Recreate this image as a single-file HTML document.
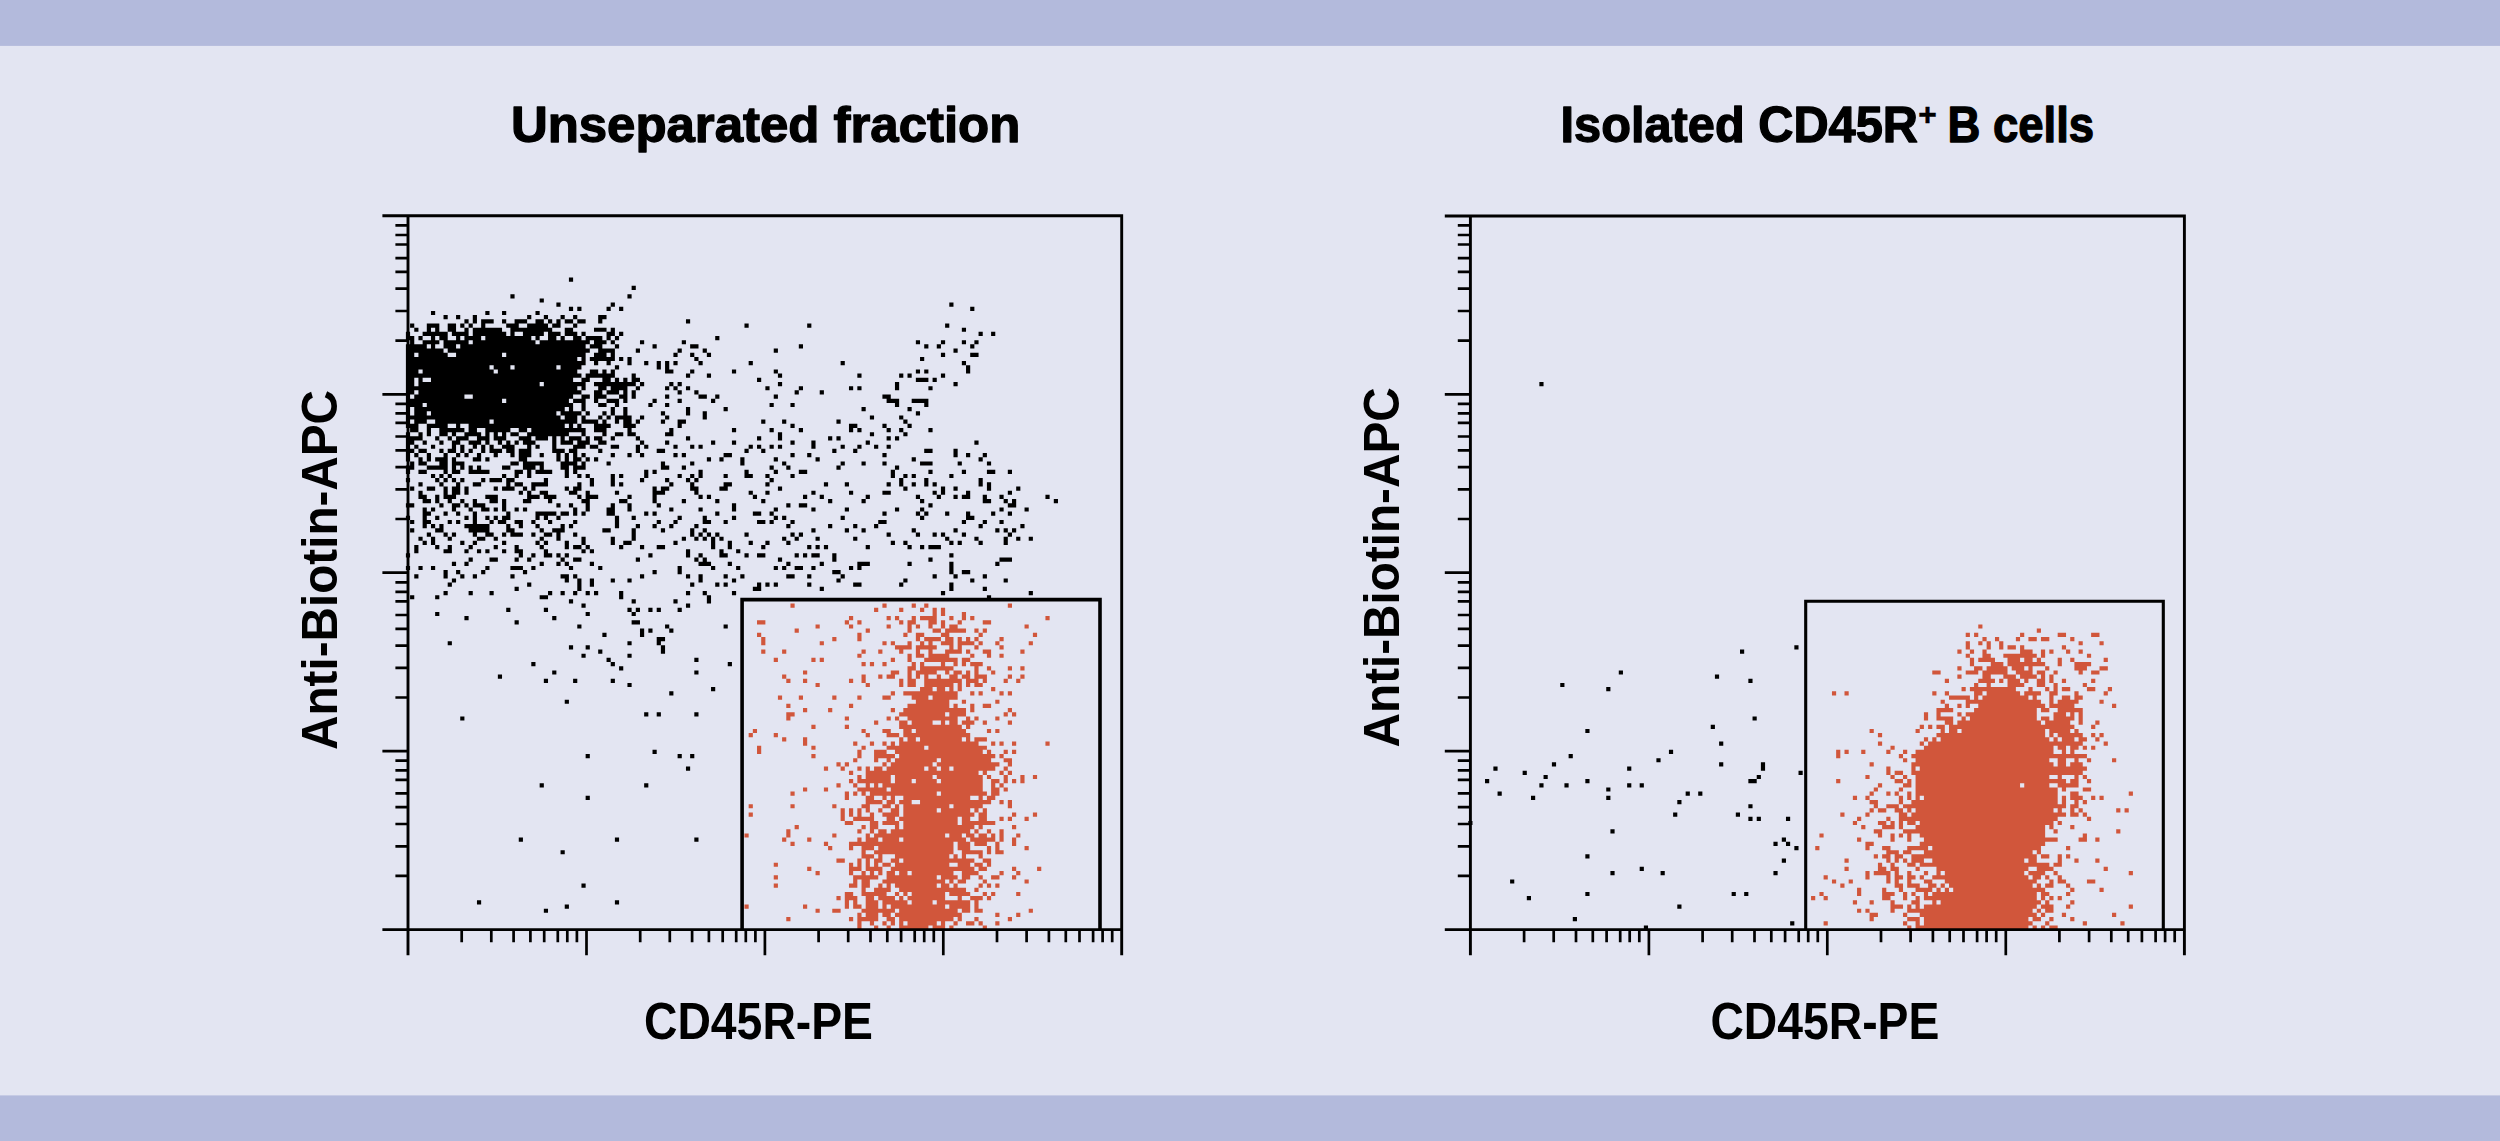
<!DOCTYPE html>
<html lang="en"><head><meta charset="utf-8"><title>CD45R B cell isolation</title>
<style>
html,body{margin:0;padding:0;background:#E3E5F2;}
body{width:2500px;height:1141px;overflow:hidden;font-family:"Liberation Sans",sans-serif;}
svg{display:block;position:absolute;left:0;top:0;}
</style></head><body>
<svg width="2500" height="1141" viewBox="0 0 2500 1141">
<rect x="0" y="0" width="2500" height="1141" fill="#E3E5F2"/>
<rect x="0" y="0" width="2500" height="45.9" fill="#B3BADC"/>
<rect x="0" y="1095.4" width="2500" height="45.6" fill="#B3BADC"/>
<g>
<path fill="#000000" transform="translate(405.9 210.6) scale(4.18)" d="M39 16h1v1h-1zM54 18h1v1h-1zM25 20h1v1h-1zM53 20h1v1h-1zM32 21h1v1h-1zM36 22h1v1h-1zM49 22h1v1h-1zM130 22h1v1h-1zM39 23h1v1h-1zM41 23h1v1h-1zM48 23h1v1h-1zM51 23h1v1h-1zM135 23h1v1h-1zM6 24h1v1h-1zM19 24h1v1h-1zM23 24h1v1h-1zM31 24h1v1h-1zM9 25h1v1h-1zM12 25h1v1h-1zM16 25h1v1h-1zM29 25h1v1h-1zM33 25h1v1h-1zM37 25h1v1h-1zM40 25h1v1h-1zM46 25h2v1h-2zM14 26h1v1h-1zM16 26h1v1h-1zM18 26h3v1h-3zM23 26h1v1h-1zM26 26h3v1h-3zM31 26h2v1h-2zM34 26h1v1h-1zM36 26h1v1h-1zM38 26h2v1h-2zM41 26h2v1h-2zM46 26h1v1h-1zM67 26h1v1h-1zM1 27h1v1h-1zM5 27h3v1h-3zM10 27h2v1h-2zM13 27h1v1h-1zM15 27h1v1h-1zM18 27h1v1h-1zM24 27h3v1h-3zM29 27h5v1h-5zM35 27h2v1h-2zM40 27h1v1h-1zM81 27h1v1h-1zM96 27h1v1h-1zM129 27h1v1h-1zM2 28h1v1h-1zM5 28h1v1h-1zM7 28h1v1h-1zM10 28h2v1h-2zM14 28h1v1h-1zM16 28h7v1h-7zM25 28h10v1h-10zM38 28h2v1h-2zM45 28h3v1h-3zM49 28h1v1h-1zM133 28h1v1h-1zM0 29h1v1h-1zM4 29h6v1h-6zM11 29h4v1h-4zM16 29h8v1h-8zM25 29h1v1h-1zM28 29h5v1h-5zM34 29h3v1h-3zM38 29h3v1h-3zM42 29h1v1h-1zM48 29h2v1h-2zM51 29h1v1h-1zM137 29h1v1h-1zM140 29h1v1h-1zM0 30h2v1h-2zM3 30h1v1h-1zM6 30h1v1h-1zM8 30h2v1h-2zM12 30h1v1h-1zM14 30h4v1h-4zM19 30h11v1h-11zM31 30h1v1h-1zM34 30h2v1h-2zM37 30h1v1h-1zM40 30h2v1h-2zM43 30h4v1h-4zM48 30h1v1h-1zM50 30h1v1h-1zM74 30h1v1h-1zM1 31h1v1h-1zM4 31h4v1h-4zM9 31h6v1h-6zM16 31h15v1h-15zM32 31h12v1h-12zM45 31h3v1h-3zM49 31h1v1h-1zM56 31h1v1h-1zM66 31h1v1h-1zM122 31h1v1h-1zM128 31h1v1h-1zM133 31h1v1h-1zM136 31h1v1h-1zM0 32h5v1h-5zM6 32h1v1h-1zM9 32h3v1h-3zM13 32h30v1h-30zM44 32h3v1h-3zM50 32h1v1h-1zM59 32h1v1h-1zM68 32h2v1h-2zM94 32h1v1h-1zM124 32h1v1h-1zM127 32h1v1h-1zM135 32h1v1h-1zM0 33h9v1h-9zM10 33h34v1h-34zM46 33h4v1h-4zM55 33h1v1h-1zM65 33h1v1h-1zM71 33h1v1h-1zM88 33h1v1h-1zM131 33h1v1h-1zM0 34h2v1h-2zM3 34h7v1h-7zM12 34h11v1h-11zM24 34h19v1h-19zM45 34h3v1h-3zM49 34h1v1h-1zM64 34h1v1h-1zM68 34h1v1h-1zM72 34h1v1h-1zM128 34h1v1h-1zM135 34h2v1h-2zM0 35h41v1h-41zM42 35h1v1h-1zM44 35h6v1h-6zM51 35h1v1h-1zM53 35h1v1h-1zM69 35h1v1h-1zM123 35h1v1h-1zM0 36h43v1h-43zM45 36h1v1h-1zM48 36h1v1h-1zM53 36h1v1h-1zM57 36h1v1h-1zM60 36h1v1h-1zM62 36h1v1h-1zM64 36h1v1h-1zM70 36h1v1h-1zM82 36h1v1h-1zM104 36h1v1h-1zM133 36h1v1h-1zM0 37h20v1h-20zM21 37h4v1h-4zM26 37h10v1h-10zM37 37h5v1h-5zM50 37h1v1h-1zM60 37h1v1h-1zM62 37h1v1h-1zM134 37h1v1h-1zM0 38h3v1h-3zM4 38h17v1h-17zM22 38h19v1h-19zM44 38h2v1h-2zM47 38h1v1h-1zM49 38h1v1h-1zM62 38h2v1h-2zM68 38h1v1h-1zM78 38h1v1h-1zM88 38h1v1h-1zM122 38h1v1h-1zM124 38h1v1h-1zM134 38h1v1h-1zM0 39h42v1h-42zM43 39h7v1h-7zM54 39h1v1h-1zM67 39h1v1h-1zM72 39h1v1h-1zM89 39h1v1h-1zM108 39h1v1h-1zM118 39h1v1h-1zM120 39h1v1h-1zM128 39h1v1h-1zM0 40h2v1h-2zM3 40h1v1h-1zM6 40h34v1h-34zM42 40h2v1h-2zM47 40h2v1h-2zM50 40h1v1h-1zM52 40h1v1h-1zM54 40h2v1h-2zM84 40h1v1h-1zM122 40h3v1h-3zM126 40h1v1h-1zM0 41h2v1h-2zM3 41h29v1h-29zM33 41h10v1h-10zM45 41h10v1h-10zM56 41h1v1h-1zM63 41h1v1h-1zM65 41h1v1h-1zM89 41h1v1h-1zM117 41h1v1h-1zM131 41h1v1h-1zM0 42h41v1h-41zM42 42h1v1h-1zM46 42h2v1h-2zM49 42h4v1h-4zM55 42h1v1h-1zM62 42h1v1h-1zM64 42h1v1h-1zM67 42h1v1h-1zM86 42h1v1h-1zM94 42h1v1h-1zM106 42h1v1h-1zM108 42h1v1h-1zM117 42h1v1h-1zM125 42h1v1h-1zM0 43h2v1h-2zM3 43h39v1h-39zM45 43h2v1h-2zM48 43h3v1h-3zM52 43h1v1h-1zM54 43h1v1h-1zM65 43h1v1h-1zM69 43h1v1h-1zM93 43h1v1h-1zM99 43h1v1h-1zM0 44h1v1h-1zM2 44h12v1h-12zM16 44h24v1h-24zM42 44h2v1h-2zM45 44h3v1h-3zM51 44h2v1h-2zM54 44h1v1h-1zM62 44h1v1h-1zM70 44h2v1h-2zM74 44h1v1h-1zM88 44h1v1h-1zM114 44h2v1h-2zM0 45h23v1h-23zM24 45h15v1h-15zM40 45h3v1h-3zM45 45h1v1h-1zM48 45h3v1h-3zM52 45h1v1h-1zM59 45h1v1h-1zM65 45h1v1h-1zM73 45h1v1h-1zM115 45h3v1h-3zM121 45h4v1h-4zM0 46h4v1h-4zM5 46h35v1h-35zM42 46h1v1h-1zM46 46h2v1h-2zM50 46h1v1h-1zM58 46h1v1h-1zM62 46h1v1h-1zM87 46h1v1h-1zM92 46h1v1h-1zM117 46h1v1h-1zM124 46h1v1h-1zM0 47h1v1h-1zM2 47h36v1h-36zM39 47h1v1h-1zM42 47h1v1h-1zM49 47h1v1h-1zM52 47h1v1h-1zM67 47h1v1h-1zM76 47h1v1h-1zM109 47h1v1h-1zM120 47h1v1h-1zM0 48h1v1h-1zM2 48h3v1h-3zM6 48h30v1h-30zM37 48h5v1h-5zM43 48h1v1h-1zM47 48h1v1h-1zM49 48h1v1h-1zM52 48h1v1h-1zM61 48h1v1h-1zM67 48h1v1h-1zM71 48h1v1h-1zM122 48h1v1h-1zM0 49h37v1h-37zM38 49h3v1h-3zM42 49h1v1h-1zM46 49h1v1h-1zM48 49h1v1h-1zM50 49h4v1h-4zM56 49h1v1h-1zM62 49h1v1h-1zM71 49h1v1h-1zM111 49h1v1h-1zM118 49h1v1h-1zM0 50h1v1h-1zM2 50h3v1h-3zM7 50h13v1h-13zM21 50h20v1h-20zM42 50h4v1h-4zM47 50h1v1h-1zM50 50h1v1h-1zM52 50h2v1h-2zM55 50h1v1h-1zM61 50h1v1h-1zM65 50h2v1h-2zM85 50h1v1h-1zM90 50h1v1h-1zM103 50h1v1h-1zM119 50h1v1h-1zM0 51h3v1h-3zM5 51h5v1h-5zM12 51h1v1h-1zM15 51h23v1h-23zM39 51h1v1h-1zM41 51h1v1h-1zM45 51h4v1h-4zM52 51h3v1h-3zM65 51h1v1h-1zM92 51h1v1h-1zM106 51h2v1h-2zM114 51h1v1h-1zM120 51h1v1h-1zM1 52h2v1h-2zM5 52h1v1h-1zM8 52h6v1h-6zM15 52h2v1h-2zM19 52h6v1h-6zM27 52h2v1h-2zM30 52h13v1h-13zM45 52h3v1h-3zM53 52h1v1h-1zM63 52h1v1h-1zM78 52h1v1h-1zM87 52h1v1h-1zM94 52h1v1h-1zM106 52h1v1h-1zM108 52h1v1h-1zM115 52h1v1h-1zM118 52h1v1h-1zM125 52h1v1h-1zM0 53h1v1h-1zM3 53h1v1h-1zM5 53h1v1h-1zM8 53h2v1h-2zM11 53h1v1h-1zM14 53h4v1h-4zM19 53h1v1h-1zM21 53h1v1h-1zM23 53h1v1h-1zM25 53h2v1h-2zM29 53h10v1h-10zM42 53h1v1h-1zM47 53h1v1h-1zM50 53h2v1h-2zM53 53h2v1h-2zM62 53h2v1h-2zM89 53h1v1h-1zM111 53h1v1h-1zM119 53h1v1h-1zM0 54h4v1h-4zM7 54h1v1h-1zM10 54h1v1h-1zM12 54h3v1h-3zM17 54h3v1h-3zM21 54h3v1h-3zM27 54h3v1h-3zM31 54h3v1h-3zM35 54h1v1h-1zM37 54h1v1h-1zM39 54h3v1h-3zM43 54h1v1h-1zM45 54h2v1h-2zM49 54h1v1h-1zM55 54h1v1h-1zM67 54h1v1h-1zM84 54h1v1h-1zM89 54h1v1h-1zM101 54h1v1h-1zM103 54h1v1h-1zM115 54h1v1h-1zM117 54h1v1h-1zM0 55h2v1h-2zM4 55h1v1h-1zM8 55h1v1h-1zM11 55h2v1h-2zM15 55h3v1h-3zM19 55h1v1h-1zM22 55h1v1h-1zM24 55h1v1h-1zM26 55h1v1h-1zM28 55h3v1h-3zM35 55h1v1h-1zM37 55h3v1h-3zM41 55h3v1h-3zM46 55h2v1h-2zM56 55h1v1h-1zM62 55h1v1h-1zM73 55h1v1h-1zM78 55h1v1h-1zM92 55h1v1h-1zM97 55h1v1h-1zM110 55h1v1h-1zM136 55h1v1h-1zM0 56h1v1h-1zM2 56h1v1h-1zM6 56h1v1h-1zM11 56h1v1h-1zM13 56h1v1h-1zM16 56h1v1h-1zM18 56h1v1h-1zM20 56h1v1h-1zM23 56h3v1h-3zM29 56h1v1h-1zM31 56h1v1h-1zM35 56h1v1h-1zM40 56h3v1h-3zM44 56h2v1h-2zM49 56h2v1h-2zM55 56h1v1h-1zM57 56h1v1h-1zM64 56h1v1h-1zM68 56h1v1h-1zM70 56h1v1h-1zM82 56h1v1h-1zM84 56h1v1h-1zM87 56h1v1h-1zM89 56h1v1h-1zM97 56h1v1h-1zM104 56h1v1h-1zM108 56h1v1h-1zM112 56h1v1h-1zM115 56h1v1h-1zM0 57h2v1h-2zM3 57h2v1h-2zM8 57h1v1h-1zM10 57h2v1h-2zM13 57h1v1h-1zM15 57h1v1h-1zM18 57h1v1h-1zM20 57h3v1h-3zM24 57h2v1h-2zM27 57h3v1h-3zM35 57h3v1h-3zM39 57h2v1h-2zM46 57h1v1h-1zM55 57h1v1h-1zM60 57h2v1h-2zM81 57h1v1h-1zM85 57h1v1h-1zM102 57h1v1h-1zM107 57h1v1h-1zM124 57h2v1h-2zM131 57h1v1h-1zM0 58h1v1h-1zM2 58h1v1h-1zM5 58h1v1h-1zM9 58h1v1h-1zM12 58h1v1h-1zM14 58h1v1h-1zM17 58h1v1h-1zM21 58h1v1h-1zM25 58h1v1h-1zM27 58h3v1h-3zM32 58h1v1h-1zM36 58h1v1h-1zM38 58h1v1h-1zM40 58h1v1h-1zM42 58h1v1h-1zM49 58h1v1h-1zM53 58h1v1h-1zM56 58h1v1h-1zM64 58h1v1h-1zM66 58h1v1h-1zM76 58h2v1h-2zM92 58h1v1h-1zM96 58h1v1h-1zM114 58h1v1h-1zM131 58h1v1h-1zM134 58h1v1h-1zM138 58h1v1h-1zM0 59h1v1h-1zM3 59h1v1h-1zM5 59h1v1h-1zM7 59h3v1h-3zM11 59h1v1h-1zM16 59h2v1h-2zM19 59h1v1h-1zM27 59h2v1h-2zM36 59h1v1h-1zM38 59h1v1h-1zM40 59h2v1h-2zM43 59h1v1h-1zM45 59h1v1h-1zM72 59h1v1h-1zM75 59h1v1h-1zM80 59h1v1h-1zM88 59h1v1h-1zM98 59h1v1h-1zM121 59h1v1h-1zM137 59h1v1h-1zM1 60h1v1h-1zM3 60h2v1h-2zM8 60h2v1h-2zM11 60h3v1h-3zM25 60h2v1h-2zM28 60h5v1h-5zM37 60h4v1h-4zM42 60h1v1h-1zM48 60h1v1h-1zM61 60h1v1h-1zM68 60h1v1h-1zM80 60h1v1h-1zM90 60h1v1h-1zM104 60h1v1h-1zM109 60h1v1h-1zM114 60h1v1h-1zM123 60h3v1h-3zM132 60h1v1h-1zM139 60h1v1h-1zM0 61h2v1h-2zM5 61h5v1h-5zM11 61h1v1h-1zM13 61h1v1h-1zM15 61h1v1h-1zM17 61h1v1h-1zM23 61h2v1h-2zM28 61h3v1h-3zM32 61h1v1h-1zM37 61h2v1h-2zM40 61h3v1h-3zM61 61h2v1h-2zM66 61h1v1h-1zM87 61h1v1h-1zM91 61h1v1h-1zM103 61h1v1h-1zM117 61h1v1h-1zM0 62h1v1h-1zM3 62h2v1h-2zM9 62h1v1h-1zM11 62h2v1h-2zM15 62h5v1h-5zM26 62h2v1h-2zM29 62h1v1h-1zM31 62h4v1h-4zM38 62h1v1h-1zM40 62h1v1h-1zM57 62h1v1h-1zM59 62h1v1h-1zM70 62h1v1h-1zM81 62h1v1h-1zM88 62h1v1h-1zM94 62h2v1h-2zM116 62h1v1h-1zM125 62h1v1h-1zM133 62h1v1h-1zM139 62h2v1h-2zM144 62h1v1h-1zM6 63h1v1h-1zM8 63h1v1h-1zM10 63h1v1h-1zM23 63h1v1h-1zM26 63h1v1h-1zM29 63h1v1h-1zM38 63h1v1h-1zM41 63h1v1h-1zM43 63h1v1h-1zM49 63h1v1h-1zM51 63h1v1h-1zM57 63h1v1h-1zM65 63h1v1h-1zM68 63h1v1h-1zM70 63h1v1h-1zM76 63h1v1h-1zM81 63h2v1h-2zM86 63h1v1h-1zM92 63h1v1h-1zM116 63h1v1h-1zM119 63h1v1h-1zM121 63h1v1h-1zM130 63h1v1h-1zM0 64h1v1h-1zM7 64h1v1h-1zM9 64h1v1h-1zM11 64h1v1h-1zM13 64h1v1h-1zM18 64h1v1h-1zM20 64h3v1h-3zM24 64h2v1h-2zM33 64h1v1h-1zM44 64h1v1h-1zM49 64h1v1h-1zM56 64h1v1h-1zM62 64h1v1h-1zM67 64h1v1h-1zM69 64h1v1h-1zM87 64h1v1h-1zM118 64h1v1h-1zM124 64h1v1h-1zM137 64h1v1h-1zM3 65h1v1h-1zM8 65h1v1h-1zM12 65h1v1h-1zM16 65h2v1h-2zM24 65h1v1h-1zM26 65h2v1h-2zM30 65h4v1h-4zM41 65h1v1h-1zM44 65h1v1h-1zM49 65h1v1h-1zM51 65h1v1h-1zM63 65h1v1h-1zM68 65h1v1h-1zM76 65h2v1h-2zM86 65h1v1h-1zM100 65h1v1h-1zM105 65h1v1h-1zM115 65h1v1h-1zM118 65h1v1h-1zM121 65h1v1h-1zM124 65h1v1h-1zM126 65h1v1h-1zM137 65h1v1h-1zM139 65h1v1h-1zM1 66h1v1h-1zM5 66h2v1h-2zM9 66h1v1h-1zM11 66h2v1h-2zM14 66h1v1h-1zM21 66h1v1h-1zM23 66h3v1h-3zM28 66h1v1h-1zM30 66h1v1h-1zM38 66h1v1h-1zM40 66h2v1h-2zM59 66h1v1h-1zM61 66h2v1h-2zM68 66h2v1h-2zM75 66h2v1h-2zM89 66h1v1h-1zM119 66h1v1h-1zM128 66h1v1h-1zM131 66h1v1h-1zM139 66h1v1h-1zM146 66h1v1h-1zM3 67h1v1h-1zM9 67h1v1h-1zM11 67h2v1h-2zM14 67h1v1h-1zM27 67h1v1h-1zM29 67h1v1h-1zM32 67h2v1h-2zM39 67h2v1h-2zM43 67h1v1h-1zM50 67h1v1h-1zM59 67h3v1h-3zM69 67h1v1h-1zM82 67h1v1h-1zM86 67h1v1h-1zM97 67h1v1h-1zM106 67h1v1h-1zM114 67h2v1h-2zM126 67h1v1h-1zM128 67h1v1h-1zM134 67h1v1h-1zM144 67h1v1h-1zM3 68h2v1h-2zM7 68h1v1h-1zM9 68h3v1h-3zM19 68h3v1h-3zM29 68h3v1h-3zM33 68h3v1h-3zM41 68h1v1h-1zM43 68h3v1h-3zM53 68h1v1h-1zM59 68h1v1h-1zM70 68h1v1h-1zM72 68h1v1h-1zM83 68h1v1h-1zM95 68h1v1h-1zM99 68h1v1h-1zM110 68h1v1h-1zM122 68h1v1h-1zM127 68h1v1h-1zM131 68h1v1h-1zM133 68h2v1h-2zM138 68h1v1h-1zM142 68h1v1h-1zM153 68h1v1h-1zM4 69h2v1h-2zM7 69h1v1h-1zM10 69h1v1h-1zM13 69h1v1h-1zM16 69h1v1h-1zM20 69h2v1h-2zM23 69h1v1h-1zM28 69h2v1h-2zM34 69h1v1h-1zM42 69h2v1h-2zM51 69h2v1h-2zM59 69h1v1h-1zM66 69h1v1h-1zM74 69h1v1h-1zM85 69h1v1h-1zM101 69h1v1h-1zM109 69h1v1h-1zM123 69h1v1h-1zM138 69h2v1h-2zM143 69h1v1h-1zM145 69h1v1h-1zM155 69h1v1h-1zM0 70h2v1h-2zM8 70h1v1h-1zM11 70h2v1h-2zM14 70h1v1h-1zM16 70h3v1h-3zM23 70h1v1h-1zM36 70h1v1h-1zM39 70h1v1h-1zM43 70h1v1h-1zM49 70h1v1h-1zM53 70h1v1h-1zM60 70h1v1h-1zM78 70h1v1h-1zM91 70h1v1h-1zM94 70h2v1h-2zM125 70h1v1h-1zM144 70h2v1h-2zM4 71h1v1h-1zM6 71h1v1h-1zM11 71h1v1h-1zM15 71h1v1h-1zM18 71h2v1h-2zM21 71h1v1h-1zM23 71h1v1h-1zM26 71h1v1h-1zM28 71h1v1h-1zM40 71h1v1h-1zM43 71h1v1h-1zM48 71h2v1h-2zM53 71h1v1h-1zM63 71h1v1h-1zM70 71h1v1h-1zM78 71h1v1h-1zM88 71h1v1h-1zM97 71h1v1h-1zM105 71h1v1h-1zM117 71h1v1h-1zM123 71h1v1h-1zM142 71h1v1h-1zM148 71h1v1h-1zM4 72h2v1h-2zM9 72h1v1h-1zM12 72h1v1h-1zM16 72h1v1h-1zM24 72h1v1h-1zM31 72h5v1h-5zM37 72h2v1h-2zM40 72h1v1h-1zM42 72h1v1h-1zM48 72h2v1h-2zM57 72h1v1h-1zM59 72h1v1h-1zM74 72h1v1h-1zM83 72h2v1h-2zM87 72h1v1h-1zM114 72h1v1h-1zM122 72h1v1h-1zM124 72h1v1h-1zM129 72h1v1h-1zM134 72h1v1h-1zM140 72h1v1h-1zM144 72h1v1h-1zM0 73h1v1h-1zM4 73h1v1h-1zM7 73h1v1h-1zM14 73h1v1h-1zM16 73h1v1h-1zM19 73h1v1h-1zM21 73h1v1h-1zM23 73h2v1h-2zM31 73h1v1h-1zM33 73h1v1h-1zM36 73h1v1h-1zM50 73h1v1h-1zM54 73h1v1h-1zM65 73h1v1h-1zM71 73h1v1h-1zM78 73h1v1h-1zM88 73h1v1h-1zM90 73h1v1h-1zM104 73h1v1h-1zM123 73h1v1h-1zM134 73h2v1h-2zM1 74h1v1h-1zM4 74h2v1h-2zM10 74h1v1h-1zM12 74h1v1h-1zM16 74h1v1h-1zM20 74h1v1h-1zM22 74h2v1h-2zM26 74h2v1h-2zM30 74h1v1h-1zM34 74h1v1h-1zM40 74h1v1h-1zM50 74h1v1h-1zM60 74h1v1h-1zM64 74h1v1h-1zM71 74h2v1h-2zM76 74h1v1h-1zM84 74h2v1h-2zM87 74h1v1h-1zM92 74h1v1h-1zM113 74h2v1h-2zM133 74h1v1h-1zM138 74h1v1h-1zM142 74h1v1h-1zM4 75h1v1h-1zM6 75h1v1h-1zM8 75h1v1h-1zM14 75h6v1h-6zM24 75h1v1h-1zM27 75h1v1h-1zM31 75h1v1h-1zM37 75h1v1h-1zM39 75h1v1h-1zM50 75h1v1h-1zM55 75h1v1h-1zM59 75h1v1h-1zM63 75h1v1h-1zM69 75h1v1h-1zM91 75h1v1h-1zM101 75h1v1h-1zM107 75h1v1h-1zM112 75h1v1h-1zM137 75h1v1h-1zM147 75h1v1h-1zM1 76h1v1h-1zM7 76h2v1h-2zM15 76h5v1h-5zM24 76h2v1h-2zM32 76h1v1h-1zM35 76h3v1h-3zM47 76h2v1h-2zM54 76h1v1h-1zM61 76h1v1h-1zM68 76h1v1h-1zM71 76h1v1h-1zM97 76h1v1h-1zM105 76h1v1h-1zM109 76h1v1h-1zM121 76h1v1h-1zM131 76h1v1h-1zM141 76h1v1h-1zM143 76h1v1h-1zM145 76h1v1h-1zM5 77h1v1h-1zM9 77h1v1h-1zM11 77h1v1h-1zM16 77h1v1h-1zM19 77h2v1h-2zM23 77h1v1h-1zM25 77h3v1h-3zM30 77h1v1h-1zM33 77h2v1h-2zM36 77h1v1h-1zM40 77h1v1h-1zM54 77h1v1h-1zM68 77h1v1h-1zM70 77h1v1h-1zM72 77h1v1h-1zM74 77h1v1h-1zM81 77h1v1h-1zM92 77h1v1h-1zM94 77h1v1h-1zM115 77h1v1h-1zM122 77h1v1h-1zM126 77h1v1h-1zM128 77h1v1h-1zM133 77h1v1h-1zM144 77h1v1h-1zM3 78h1v1h-1zM6 78h1v1h-1zM10 78h1v1h-1zM17 78h2v1h-2zM21 78h1v1h-1zM32 78h1v1h-1zM36 78h1v1h-1zM42 78h1v1h-1zM49 78h1v1h-1zM54 78h1v1h-1zM66 78h1v1h-1zM69 78h1v1h-1zM71 78h1v1h-1zM73 78h1v1h-1zM75 78h1v1h-1zM90 78h1v1h-1zM93 78h1v1h-1zM98 78h1v1h-1zM107 78h1v1h-1zM129 78h1v1h-1zM136 78h1v1h-1zM143 78h1v1h-1zM146 78h1v1h-1zM149 78h1v1h-1zM4 79h1v1h-1zM6 79h1v1h-1zM13 79h1v1h-1zM16 79h1v1h-1zM23 79h1v1h-1zM31 79h1v1h-1zM33 79h1v1h-1zM38 79h1v1h-1zM42 79h1v1h-1zM49 79h1v1h-1zM52 79h2v1h-2zM64 79h1v1h-1zM73 79h1v1h-1zM77 79h1v1h-1zM82 79h1v1h-1zM86 79h1v1h-1zM91 79h1v1h-1zM116 79h1v1h-1zM119 79h1v1h-1zM130 79h1v1h-1zM132 79h1v1h-1zM137 79h1v1h-1zM143 79h1v1h-1zM2 80h1v1h-1zM7 80h1v1h-1zM10 80h1v1h-1zM15 80h1v1h-1zM21 80h1v1h-1zM26 80h1v1h-1zM32 80h1v1h-1zM38 80h1v1h-1zM40 80h2v1h-2zM43 80h1v1h-1zM51 80h1v1h-1zM56 80h1v1h-1zM60 80h2v1h-2zM73 80h1v1h-1zM77 80h1v1h-1zM85 80h1v1h-1zM96 80h1v1h-1zM98 80h1v1h-1zM100 80h1v1h-1zM110 80h1v1h-1zM120 80h1v1h-1zM123 80h1v1h-1zM125 80h3v1h-3zM2 81h1v1h-1zM9 81h2v1h-2zM14 81h1v1h-1zM17 81h1v1h-1zM19 81h1v1h-1zM23 81h1v1h-1zM26 81h2v1h-2zM33 81h1v1h-1zM42 81h1v1h-1zM44 81h1v1h-1zM67 81h1v1h-1zM75 81h1v1h-1zM79 81h1v1h-1zM0 82h1v1h-1zM27 82h1v1h-1zM30 82h1v1h-1zM33 82h2v1h-2zM36 82h1v1h-1zM38 82h1v1h-1zM58 82h1v1h-1zM67 82h1v1h-1zM70 82h1v1h-1zM75 82h2v1h-2zM81 82h1v1h-1zM84 82h2v1h-2zM93 82h1v1h-1zM95 82h1v1h-1zM97 82h2v1h-2zM102 82h1v1h-1zM130 82h1v1h-1zM15 83h1v1h-1zM20 83h2v1h-2zM26 83h1v1h-1zM29 83h1v1h-1zM37 83h1v1h-1zM40 83h2v1h-2zM55 83h1v1h-1zM69 83h1v1h-1zM71 83h1v1h-1zM89 83h1v1h-1zM102 83h1v1h-1zM125 83h1v1h-1zM142 83h3v1h-3zM11 84h1v1h-1zM14 84h1v1h-1zM32 84h1v1h-1zM36 84h1v1h-1zM38 84h1v1h-1zM44 84h1v1h-1zM70 84h3v1h-3zM77 84h1v1h-1zM91 84h1v1h-1zM99 84h1v1h-1zM108 84h3v1h-3zM120 84h1v1h-1zM130 84h1v1h-1zM141 84h1v1h-1zM0 85h1v1h-1zM3 85h1v1h-1zM6 85h1v1h-1zM19 85h1v1h-1zM25 85h3v1h-3zM30 85h1v1h-1zM39 85h1v1h-1zM46 85h1v1h-1zM65 85h1v1h-1zM73 85h1v1h-1zM79 85h1v1h-1zM88 85h1v1h-1zM90 85h1v1h-1zM93 85h2v1h-2zM97 85h1v1h-1zM106 85h1v1h-1zM108 85h1v1h-1zM130 85h1v1h-1zM9 86h1v1h-1zM12 86h1v1h-1zM18 86h1v1h-1zM28 86h1v1h-1zM59 86h1v1h-1zM65 86h1v1h-1zM102 86h2v1h-2zM130 86h1v1h-1zM133 86h2v1h-2zM2 87h1v1h-1zM9 87h1v1h-1zM13 87h1v1h-1zM16 87h1v1h-1zM25 87h1v1h-1zM37 87h2v1h-2zM40 87h1v1h-1zM56 87h1v1h-1zM67 87h1v1h-1zM70 87h1v1h-1zM76 87h1v1h-1zM80 87h1v1h-1zM91 87h2v1h-2zM96 87h1v1h-1zM104 87h1v1h-1zM126 87h1v1h-1zM131 87h1v1h-1zM138 87h1v1h-1zM11 88h1v1h-1zM38 88h1v1h-1zM41 88h1v1h-1zM44 88h1v1h-1zM49 88h1v1h-1zM53 88h1v1h-1zM70 88h1v1h-1zM78 88h1v1h-1zM103 88h1v1h-1zM119 88h1v1h-1zM135 88h1v1h-1zM143 88h1v1h-1zM10 89h1v1h-1zM29 89h1v1h-1zM41 89h1v1h-1zM44 89h1v1h-1zM68 89h1v1h-1zM74 89h1v1h-1zM76 89h1v1h-1zM84 89h1v1h-1zM86 89h1v1h-1zM88 89h1v1h-1zM96 89h1v1h-1zM107 89h2v1h-2zM118 89h1v1h-1zM130 89h1v1h-1zM26 90h1v1h-1zM41 90h1v1h-1zM83 90h2v1h-2zM99 90h1v1h-1zM130 90h1v1h-1zM138 90h1v1h-1zM9 91h1v1h-1zM15 91h1v1h-1zM20 91h1v1h-1zM34 91h1v1h-1zM37 91h1v1h-1zM40 91h1v1h-1zM43 91h1v1h-1zM45 91h1v1h-1zM51 91h1v1h-1zM67 91h1v1h-1zM71 91h1v1h-1zM78 91h1v1h-1zM128 91h1v1h-1zM149 91h1v1h-1zM1 92h1v1h-1zM7 92h1v1h-1zM32 92h2v1h-2zM51 92h1v1h-1zM72 92h1v1h-1zM139 92h1v1h-1zM39 93h1v1h-1zM54 93h1v1h-1zM64 93h1v1h-1zM72 93h1v1h-1zM42 94h1v1h-1zM67 94h1v1h-1zM24 95h1v1h-1zM33 95h1v1h-1zM53 95h1v1h-1zM55 95h1v1h-1zM58 95h1v1h-1zM60 95h1v1h-1zM65 95h1v1h-1zM7 96h1v1h-1zM43 96h1v1h-1zM54 96h1v1h-1zM14 97h1v1h-1zM35 97h1v1h-1zM26 98h1v1h-1zM54 98h2v1h-2zM41 99h1v1h-1zM62 99h1v1h-1zM76 99h1v1h-1zM56 100h1v1h-1zM58 100h1v1h-1zM63 100h1v1h-1zM47 101h1v1h-1zM56 101h1v1h-1zM60 102h2v1h-2zM10 103h1v1h-1zM53 103h1v1h-1zM60 103h1v1h-1zM39 104h1v1h-1zM43 104h1v1h-1zM61 104h1v1h-1zM46 105h1v1h-1zM61 105h1v1h-1zM42 106h1v1h-1zM53 106h1v1h-1zM48 107h1v1h-1zM69 107h1v1h-1zM30 108h1v1h-1zM49 108h1v1h-1zM77 108h1v1h-1zM51 109h1v1h-1zM35 110h1v1h-1zM69 110h1v1h-1zM22 111h1v1h-1zM33 112h1v1h-1zM40 112h1v1h-1zM49 112h1v1h-1zM53 113h1v1h-1zM73 114h1v1h-1zM63 115h1v1h-1zM38 117h1v1h-1zM57 120h1v1h-1zM60 120h1v1h-1zM69 120h1v1h-1zM13 121h1v1h-1zM59 129h1v1h-1zM43 130h1v1h-1zM65 130h1v1h-1zM68 130h1v1h-1zM67 133h1v1h-1zM32 137h1v1h-1zM57 137h1v1h-1zM43 140h1v1h-1zM27 150h1v1h-1zM50 150h1v1h-1zM69 150h1v1h-1zM37 153h1v1h-1zM42 161h1v1h-1zM17 165h1v1h-1zM50 165h1v1h-1zM38 166h1v1h-1zM33 167h1v1h-1z"/>
<path fill="#D1563B" transform="translate(405.9 210.6) scale(4.18)" d="M92 94h1v1h-1zM114 94h1v1h-1zM121 94h1v1h-1zM124 94h1v1h-1zM144 94h1v1h-1zM112 95h1v1h-1zM118 95h1v1h-1zM123 95h1v1h-1zM126 95h1v1h-1zM128 95h1v1h-1zM126 96h1v1h-1zM128 96h1v1h-1zM133 96h1v1h-1zM106 97h1v1h-1zM115 97h1v1h-1zM117 97h1v1h-1zM121 97h1v1h-1zM123 97h4v1h-4zM130 97h1v1h-1zM133 97h1v1h-1zM135 97h1v1h-1zM153 97h1v1h-1zM84 98h2v1h-2zM105 98h1v1h-1zM108 98h1v1h-1zM118 98h1v1h-1zM120 98h2v1h-2zM125 98h2v1h-2zM128 98h1v1h-1zM132 98h1v1h-1zM138 98h2v1h-2zM98 99h1v1h-1zM106 99h1v1h-1zM115 99h1v1h-1zM120 99h1v1h-1zM122 99h1v1h-1zM125 99h1v1h-1zM128 99h1v1h-1zM130 99h2v1h-2zM148 99h1v1h-1zM93 100h1v1h-1zM110 100h1v1h-1zM120 100h1v1h-1zM126 100h2v1h-2zM129 100h5v1h-5zM136 100h1v1h-1zM138 100h1v1h-1zM84 101h1v1h-1zM108 101h1v1h-1zM119 101h1v1h-1zM122 101h2v1h-2zM128 101h2v1h-2zM137 101h1v1h-1zM150 101h1v1h-1zM85 102h1v1h-1zM102 102h1v1h-1zM108 102h1v1h-1zM122 102h1v1h-1zM124 102h4v1h-4zM129 102h2v1h-2zM132 102h1v1h-1zM134 102h1v1h-1zM136 102h1v1h-1zM142 102h1v1h-1zM85 103h1v1h-1zM99 103h1v1h-1zM114 103h1v1h-1zM116 103h1v1h-1zM120 103h1v1h-1zM123 103h1v1h-1zM125 103h1v1h-1zM128 103h3v1h-3zM132 103h4v1h-4zM137 103h1v1h-1zM141 103h1v1h-1zM149 103h1v1h-1zM117 104h4v1h-4zM122 104h5v1h-5zM130 104h1v1h-1zM132 104h1v1h-1zM136 104h1v1h-1zM142 104h1v1h-1zM85 105h1v1h-1zM90 105h1v1h-1zM109 105h1v1h-1zM113 105h1v1h-1zM118 105h1v1h-1zM122 105h1v1h-1zM125 105h1v1h-1zM129 105h4v1h-4zM134 105h1v1h-1zM138 105h2v1h-2zM147 105h1v1h-1zM108 106h1v1h-1zM120 106h1v1h-1zM122 106h2v1h-2zM125 106h5v1h-5zM135 106h1v1h-1zM139 106h1v1h-1zM142 106h1v1h-1zM88 107h1v1h-1zM97 107h1v1h-1zM99 107h1v1h-1zM116 107h1v1h-1zM120 107h1v1h-1zM124 107h8v1h-8zM133 107h2v1h-2zM109 108h1v1h-1zM111 108h1v1h-1zM114 108h1v1h-1zM121 108h1v1h-1zM123 108h1v1h-1zM128 108h1v1h-1zM131 108h1v1h-1zM133 108h1v1h-1zM135 108h3v1h-3zM120 109h2v1h-2zM123 109h8v1h-8zM136 109h1v1h-1zM139 109h1v1h-1zM144 109h1v1h-1zM147 109h1v1h-1zM95 110h1v1h-1zM116 110h2v1h-2zM120 110h1v1h-1zM122 110h5v1h-5zM129 110h1v1h-1zM131 110h2v1h-2zM134 110h1v1h-1zM136 110h1v1h-1zM140 110h1v1h-1zM90 111h1v1h-1zM109 111h1v1h-1zM113 111h1v1h-1zM115 111h2v1h-2zM120 111h1v1h-1zM122 111h1v1h-1zM124 111h1v1h-1zM127 111h1v1h-1zM130 111h2v1h-2zM133 111h2v1h-2zM136 111h3v1h-3zM144 111h1v1h-1zM147 111h1v1h-1zM91 112h1v1h-1zM95 112h1v1h-1zM106 112h1v1h-1zM109 112h1v1h-1zM118 112h1v1h-1zM120 112h2v1h-2zM124 112h9v1h-9zM134 112h3v1h-3zM138 112h1v1h-1zM143 112h1v1h-1zM146 112h1v1h-1zM98 113h1v1h-1zM110 113h1v1h-1zM118 113h1v1h-1zM120 113h2v1h-2zM124 113h7v1h-7zM132 113h1v1h-1zM134 113h1v1h-1zM136 113h2v1h-2zM123 114h3v1h-3zM127 114h2v1h-2zM130 114h1v1h-1zM132 114h1v1h-1zM140 114h1v1h-1zM116 115h1v1h-1zM119 115h13v1h-13zM135 115h1v1h-1zM137 115h1v1h-1zM142 115h1v1h-1zM144 115h1v1h-1zM89 116h1v1h-1zM94 116h1v1h-1zM102 116h1v1h-1zM108 116h1v1h-1zM114 116h2v1h-2zM121 116h4v1h-4zM126 116h6v1h-6zM122 117h8v1h-8zM133 117h1v1h-1zM141 117h1v1h-1zM91 118h1v1h-1zM106 118h1v1h-1zM120 118h10v1h-10zM131 118h1v1h-1zM135 118h1v1h-1zM138 118h2v1h-2zM95 119h1v1h-1zM101 119h1v1h-1zM116 119h1v1h-1zM119 119h15v1h-15zM135 119h1v1h-1zM144 119h1v1h-1zM91 120h2v1h-2zM118 120h11v1h-11zM130 120h4v1h-4zM143 120h1v1h-1zM145 120h1v1h-1zM91 121h1v1h-1zM105 121h1v1h-1zM115 121h1v1h-1zM117 121h1v1h-1zM120 121h12v1h-12zM134 121h1v1h-1zM136 121h1v1h-1zM141 121h1v1h-1zM112 122h1v1h-1zM118 122h2v1h-2zM121 122h5v1h-5zM128 122h1v1h-1zM130 122h2v1h-2zM133 122h3v1h-3zM138 122h1v1h-1zM144 122h1v1h-1zM97 123h1v1h-1zM105 123h1v1h-1zM118 123h15v1h-15zM134 123h1v1h-1zM83 124h1v1h-1zM109 124h1v1h-1zM114 124h2v1h-2zM119 124h2v1h-2zM122 124h12v1h-12zM139 124h1v1h-1zM141 124h1v1h-1zM82 125h1v1h-1zM88 125h1v1h-1zM110 125h1v1h-1zM115 125h3v1h-3zM119 125h16v1h-16zM90 126h1v1h-1zM95 126h1v1h-1zM118 126h1v1h-1zM120 126h2v1h-2zM123 126h10v1h-10zM134 126h1v1h-1zM136 126h3v1h-3zM95 127h1v1h-1zM107 127h1v1h-1zM111 127h1v1h-1zM114 127h1v1h-1zM116 127h1v1h-1zM118 127h19v1h-19zM140 127h1v1h-1zM142 127h1v1h-1zM145 127h1v1h-1zM153 127h1v1h-1zM84 128h1v1h-1zM97 128h1v1h-1zM109 128h1v1h-1zM115 128h9v1h-9zM125 128h14v1h-14zM84 129h1v1h-1zM108 129h1v1h-1zM112 129h3v1h-3zM117 129h21v1h-21zM139 129h1v1h-1zM143 129h1v1h-1zM145 129h1v1h-1zM97 130h1v1h-1zM108 130h1v1h-1zM112 130h5v1h-5zM118 130h23v1h-23zM142 130h1v1h-1zM107 131h1v1h-1zM112 131h1v1h-1zM115 131h1v1h-1zM117 131h10v1h-10zM128 131h12v1h-12zM143 131h2v1h-2zM103 132h1v1h-1zM105 132h1v1h-1zM114 132h1v1h-1zM116 132h10v1h-10zM127 132h15v1h-15zM144 132h1v1h-1zM100 133h1v1h-1zM104 133h1v1h-1zM108 133h1v1h-1zM110 133h1v1h-1zM112 133h2v1h-2zM115 133h9v1h-9zM125 133h2v1h-2zM128 133h2v1h-2zM131 133h10v1h-10zM143 133h1v1h-1zM106 134h1v1h-1zM110 134h27v1h-27zM138 134h1v1h-1zM142 134h1v1h-1zM144 134h1v1h-1zM108 135h1v1h-1zM110 135h6v1h-6zM117 135h9v1h-9zM127 135h11v1h-11zM139 135h1v1h-1zM143 135h1v1h-1zM147 135h1v1h-1zM150 135h1v1h-1zM106 136h1v1h-1zM108 136h8v1h-8zM117 136h4v1h-4zM122 136h5v1h-5zM128 136h10v1h-10zM140 136h2v1h-2zM143 136h1v1h-1zM145 136h1v1h-1zM147 136h1v1h-1zM103 137h1v1h-1zM107 137h1v1h-1zM110 137h1v1h-1zM112 137h1v1h-1zM114 137h24v1h-24zM140 137h1v1h-1zM142 137h1v1h-1zM95 138h1v1h-1zM100 138h1v1h-1zM108 138h7v1h-7zM116 138h22v1h-22zM140 138h2v1h-2zM143 138h1v1h-1zM92 139h1v1h-1zM105 139h1v1h-1zM107 139h1v1h-1zM109 139h1v1h-1zM111 139h16v1h-16zM128 139h11v1h-11zM140 139h2v1h-2zM105 140h1v1h-1zM110 140h2v1h-2zM114 140h1v1h-1zM116 140h1v1h-1zM119 140h16v1h-16zM137 140h1v1h-1zM139 140h2v1h-2zM110 141h4v1h-4zM115 141h2v1h-2zM118 141h3v1h-3zM123 141h17v1h-17zM142 141h1v1h-1zM144 141h1v1h-1zM82 142h1v1h-1zM92 142h1v1h-1zM102 142h1v1h-1zM109 142h2v1h-2zM114 142h2v1h-2zM117 142h1v1h-1zM119 142h11v1h-11zM131 142h7v1h-7zM144 142h1v1h-1zM104 143h1v1h-1zM106 143h1v1h-1zM108 143h1v1h-1zM110 143h1v1h-1zM113 143h1v1h-1zM116 143h2v1h-2zM119 143h8v1h-8zM128 143h7v1h-7zM136 143h1v1h-1zM138 143h1v1h-1zM82 144h1v1h-1zM104 144h1v1h-1zM106 144h1v1h-1zM108 144h1v1h-1zM111 144h1v1h-1zM114 144h4v1h-4zM119 144h17v1h-17zM137 144h2v1h-2zM145 144h1v1h-1zM150 144h1v1h-1zM104 145h1v1h-1zM107 145h5v1h-5zM115 145h2v1h-2zM118 145h14v1h-14zM133 145h2v1h-2zM137 145h2v1h-2zM142 145h1v1h-1zM144 145h1v1h-1zM148 145h1v1h-1zM105 146h2v1h-2zM111 146h2v1h-2zM114 146h4v1h-4zM119 146h13v1h-13zM133 146h8v1h-8zM93 147h1v1h-1zM109 147h1v1h-1zM111 147h2v1h-2zM117 147h1v1h-1zM119 147h17v1h-17zM137 147h1v1h-1zM145 147h1v1h-1zM91 148h1v1h-1zM108 148h1v1h-1zM111 148h1v1h-1zM113 148h2v1h-2zM116 148h19v1h-19zM136 148h1v1h-1zM139 148h1v1h-1zM142 148h1v1h-1zM81 149h1v1h-1zM91 149h1v1h-1zM102 149h1v1h-1zM110 149h1v1h-1zM112 149h17v1h-17zM130 149h3v1h-3zM134 149h2v1h-2zM137 149h2v1h-2zM140 149h1v1h-1zM142 149h1v1h-1zM146 149h1v1h-1zM90 150h1v1h-1zM96 150h1v1h-1zM108 150h1v1h-1zM110 150h3v1h-3zM114 150h4v1h-4zM119 150h15v1h-15zM135 150h6v1h-6zM142 150h1v1h-1zM145 150h1v1h-1zM92 151h1v1h-1zM100 151h1v1h-1zM106 151h25v1h-25zM132 151h3v1h-3zM136 151h3v1h-3zM141 151h1v1h-1zM145 151h1v1h-1zM101 152h1v1h-1zM106 152h1v1h-1zM109 152h3v1h-3zM113 152h18v1h-18zM132 152h3v1h-3zM139 152h1v1h-1zM141 152h1v1h-1zM148 152h1v1h-1zM109 153h1v1h-1zM112 153h19v1h-19zM133 153h5v1h-5zM139 153h1v1h-1zM141 153h2v1h-2zM109 154h3v1h-3zM113 154h1v1h-1zM117 154h13v1h-13zM131 154h1v1h-1zM133 154h1v1h-1zM137 154h1v1h-1zM103 155h2v1h-2zM108 155h1v1h-1zM110 155h1v1h-1zM112 155h2v1h-2zM116 155h2v1h-2zM119 155h17v1h-17zM138 155h2v1h-2zM88 156h1v1h-1zM106 156h1v1h-1zM108 156h1v1h-1zM110 156h1v1h-1zM112 156h1v1h-1zM114 156h2v1h-2zM117 156h13v1h-13zM132 156h3v1h-3zM136 156h2v1h-2zM139 156h1v1h-1zM96 157h1v1h-1zM106 157h3v1h-3zM110 157h4v1h-4zM116 157h20v1h-20zM137 157h2v1h-2zM145 157h1v1h-1zM151 157h1v1h-1zM98 158h1v1h-1zM106 158h1v1h-1zM109 158h1v1h-1zM111 158h1v1h-1zM113 158h1v1h-1zM115 158h2v1h-2zM118 158h2v1h-2zM121 158h10v1h-10zM133 158h4v1h-4zM142 158h1v1h-1zM146 158h1v1h-1zM88 159h1v1h-1zM107 159h6v1h-6zM115 159h12v1h-12zM128 159h4v1h-4zM133 159h2v1h-2zM137 159h1v1h-1zM140 159h2v1h-2zM145 159h1v1h-1zM107 160h1v1h-1zM109 160h2v1h-2zM114 160h15v1h-15zM130 160h1v1h-1zM132 160h2v1h-2zM138 160h1v1h-1zM148 160h1v1h-1zM88 161h1v1h-1zM106 161h2v1h-2zM109 161h2v1h-2zM113 161h1v1h-1zM115 161h1v1h-1zM117 161h10v1h-10zM128 161h2v1h-2zM131 161h1v1h-1zM137 161h1v1h-1zM139 161h1v1h-1zM141 161h1v1h-1zM109 162h1v1h-1zM112 162h4v1h-4zM118 162h16v1h-16zM136 162h1v1h-1zM105 163h2v1h-2zM109 163h6v1h-6zM117 163h1v1h-1zM119 163h1v1h-1zM121 163h8v1h-8zM130 163h5v1h-5zM138 163h1v1h-1zM140 163h1v1h-1zM146 163h1v1h-1zM103 164h1v1h-1zM105 164h3v1h-3zM110 164h2v1h-2zM113 164h4v1h-4zM118 164h1v1h-1zM120 164h9v1h-9zM132 164h1v1h-1zM135 164h3v1h-3zM139 164h1v1h-1zM105 165h1v1h-1zM107 165h1v1h-1zM110 165h3v1h-3zM114 165h6v1h-6zM121 165h5v1h-5zM127 165h8v1h-8zM136 165h1v1h-1zM81 166h1v1h-1zM95 166h1v1h-1zM105 166h1v1h-1zM107 166h2v1h-2zM110 166h3v1h-3zM114 166h1v1h-1zM116 166h13v1h-13zM130 166h5v1h-5zM136 166h1v1h-1zM98 167h1v1h-1zM102 167h2v1h-2zM109 167h8v1h-8zM118 167h14v1h-14zM133 167h2v1h-2zM136 167h2v1h-2zM149 167h1v1h-1zM108 168h1v1h-1zM110 168h3v1h-3zM114 168h2v1h-2zM117 168h16v1h-16zM141 168h1v1h-1zM146 168h1v1h-1zM91 169h1v1h-1zM106 169h1v1h-1zM108 169h5v1h-5zM115 169h2v1h-2zM118 169h13v1h-13zM132 169h1v1h-1zM136 169h1v1h-1zM144 169h1v1h-1zM108 170h1v1h-1zM111 170h1v1h-1zM114 170h1v1h-1zM116 170h1v1h-1zM118 170h1v1h-1zM120 170h7v1h-7zM128 170h1v1h-1zM131 170h1v1h-1zM134 170h2v1h-2zM137 170h1v1h-1zM141 170h1v1h-1zM108 171h1v1h-1zM112 171h1v1h-1zM115 171h1v1h-1zM118 171h7v1h-7zM126 171h3v1h-3zM130 171h1v1h-1zM138 171h1v1h-1z"/>
<path fill="#000000" transform="translate(1468.3 210.6) scale(4.18)" d="M17 41h1v1h-1zM78 104h1v1h-1zM65 105h1v1h-1zM36 110h1v1h-1zM59 111h1v1h-1zM67 112h1v1h-1zM22 113h1v1h-1zM33 114h1v1h-1zM68 121h1v1h-1zM58 123h1v1h-1zM28 124h1v1h-1zM60 127h1v1h-1zM48 129h1v1h-1zM24 130h1v1h-1zM45 131h1v1h-1zM20 132h1v1h-1zM60 132h1v1h-1zM70 132h1v1h-1zM6 133h1v1h-1zM38 133h1v1h-1zM70 133h1v1h-1zM13 134h1v1h-1zM79 134h1v1h-1zM18 135h1v1h-1zM69 135h1v1h-1zM4 136h1v1h-1zM28 136h1v1h-1zM67 136h2v1h-2zM17 137h1v1h-1zM23 137h1v1h-1zM38 137h1v1h-1zM41 137h1v1h-1zM33 138h1v1h-1zM7 139h1v1h-1zM52 139h1v1h-1zM55 139h1v1h-1zM15 140h1v1h-1zM33 140h1v1h-1zM50 141h1v1h-1zM67 142h1v1h-1zM49 144h1v1h-1zM64 144h1v1h-1zM67 145h1v1h-1zM69 145h1v1h-1zM76 145h1v1h-1zM0 146h1v1h-1zM34 148h1v1h-1zM75 150h1v1h-1zM73 151h1v1h-1zM76 151h1v1h-1zM78 152h1v1h-1zM28 154h1v1h-1zM75 155h1v1h-1zM41 157h1v1h-1zM34 158h1v1h-1zM46 158h1v1h-1zM73 158h1v1h-1zM10 160h1v1h-1zM28 163h1v1h-1zM63 163h1v1h-1zM66 163h1v1h-1zM14 164h1v1h-1zM50 166h1v1h-1zM25 169h1v1h-1zM77 170h1v1h-1zM42 171h1v1h-1z"/>
<path fill="#D1563B" transform="translate(1468.3 210.6) scale(4.18)" d="M122 99h1v1h-1zM136 100h1v1h-1zM119 101h1v1h-1zM121 101h1v1h-1zM132 101h1v1h-1zM141 101h2v1h-2zM149 101h2v1h-2zM123 102h1v1h-1zM126 102h1v1h-1zM131 102h1v1h-1zM134 102h2v1h-2zM137 102h2v1h-2zM144 102h1v1h-1zM119 103h1v1h-1zM122 103h1v1h-1zM124 103h1v1h-1zM127 103h1v1h-1zM146 103h1v1h-1zM151 103h1v1h-1zM119 104h1v1h-1zM124 104h1v1h-1zM127 104h1v1h-1zM129 104h2v1h-2zM132 104h1v1h-1zM142 104h1v1h-1zM117 105h1v1h-1zM120 105h1v1h-1zM123 105h1v1h-1zM132 105h3v1h-3zM137 105h1v1h-1zM139 105h1v1h-1zM143 105h1v1h-1zM146 105h1v1h-1zM119 106h1v1h-1zM123 106h2v1h-2zM128 106h8v1h-8zM137 106h1v1h-1zM148 106h1v1h-1zM120 107h1v1h-1zM122 107h4v1h-4zM129 107h3v1h-3zM133 107h2v1h-2zM136 107h1v1h-1zM141 107h1v1h-1zM144 107h1v1h-1zM152 107h1v1h-1zM120 108h1v1h-1zM125 108h3v1h-3zM129 108h9v1h-9zM141 108h1v1h-1zM145 108h4v1h-4zM117 109h1v1h-1zM121 109h2v1h-2zM124 109h5v1h-5zM130 109h3v1h-3zM134 109h1v1h-1zM138 109h1v1h-1zM145 109h3v1h-3zM151 109h2v1h-2zM111 110h2v1h-2zM119 110h3v1h-3zM123 110h6v1h-6zM131 110h4v1h-4zM136 110h2v1h-2zM140 110h1v1h-1zM146 110h1v1h-1zM149 110h2v1h-2zM117 111h1v1h-1zM123 111h2v1h-2zM128 111h3v1h-3zM132 111h4v1h-4zM137 111h1v1h-1zM139 111h1v1h-1zM114 112h1v1h-1zM122 112h4v1h-4zM127 112h1v1h-1zM129 112h3v1h-3zM133 112h1v1h-1zM136 112h2v1h-2zM139 112h1v1h-1zM142 112h1v1h-1zM149 112h1v1h-1zM121 113h1v1h-1zM124 113h1v1h-1zM129 113h4v1h-4zM136 113h2v1h-2zM140 113h1v1h-1zM147 113h1v1h-1zM118 114h1v1h-1zM120 114h11v1h-11zM134 114h1v1h-1zM138 114h1v1h-1zM140 114h1v1h-1zM142 114h2v1h-2zM148 114h2v1h-2zM153 114h1v1h-1zM87 115h1v1h-1zM90 115h1v1h-1zM111 115h1v1h-1zM114 115h1v1h-1zM121 115h2v1h-2zM124 115h8v1h-8zM133 115h4v1h-4zM139 115h2v1h-2zM145 115h1v1h-1zM152 115h1v1h-1zM115 116h5v1h-5zM121 116h1v1h-1zM123 116h11v1h-11zM135 116h1v1h-1zM139 116h1v1h-1zM142 116h2v1h-2zM145 116h2v1h-2zM113 117h1v1h-1zM119 117h18v1h-18zM139 117h1v1h-1zM141 117h5v1h-5zM151 117h1v1h-1zM114 118h1v1h-1zM117 118h1v1h-1zM119 118h1v1h-1zM122 118h16v1h-16zM139 118h6v1h-6zM154 118h1v1h-1zM112 119h4v1h-4zM121 119h15v1h-15zM137 119h2v1h-2zM141 119h6v1h-6zM109 120h1v1h-1zM112 120h1v1h-1zM117 120h1v1h-1zM119 120h17v1h-17zM140 120h3v1h-3zM144 120h1v1h-1zM146 120h1v1h-1zM109 121h1v1h-1zM112 121h4v1h-4zM118 121h1v1h-1zM120 121h16v1h-16zM137 121h2v1h-2zM140 121h5v1h-5zM146 121h1v1h-1zM114 122h2v1h-2zM117 122h20v1h-20zM138 122h6v1h-6zM146 122h1v1h-1zM150 122h1v1h-1zM108 123h1v1h-1zM110 123h1v1h-1zM112 123h2v1h-2zM115 123h30v1h-30zM149 123h1v1h-1zM96 124h1v1h-1zM107 124h1v1h-1zM113 124h1v1h-1zM115 124h2v1h-2zM118 124h20v1h-20zM139 124h5v1h-5zM145 124h1v1h-1zM98 125h1v1h-1zM112 125h26v1h-26zM139 125h1v1h-1zM141 125h6v1h-6zM149 125h1v1h-1zM151 125h1v1h-1zM109 126h1v1h-1zM111 126h1v1h-1zM113 126h26v1h-26zM140 126h1v1h-1zM142 126h3v1h-3zM146 126h2v1h-2zM150 126h1v1h-1zM98 127h1v1h-1zM108 127h1v1h-1zM110 127h37v1h-37zM152 127h1v1h-1zM101 128h1v1h-1zM109 128h31v1h-31zM141 128h2v1h-2zM144 128h2v1h-2zM147 128h1v1h-1zM149 128h1v1h-1zM88 129h1v1h-1zM90 129h1v1h-1zM94 129h1v1h-1zM100 129h1v1h-1zM104 129h1v1h-1zM107 129h33v1h-33zM142 129h1v1h-1zM144 129h1v1h-1zM88 130h1v1h-1zM103 130h1v1h-1zM106 130h42v1h-42zM104 131h1v1h-1zM107 131h32v1h-32zM141 131h2v1h-2zM145 131h1v1h-1zM148 131h1v1h-1zM154 131h1v1h-1zM96 132h1v1h-1zM106 132h34v1h-34zM141 132h2v1h-2zM144 132h3v1h-3zM100 133h1v1h-1zM106 133h1v1h-1zM108 133h40v1h-40zM100 134h1v1h-1zM102 134h2v1h-2zM106 134h41v1h-41zM95 135h1v1h-1zM101 135h1v1h-1zM104 135h1v1h-1zM107 135h32v1h-32zM141 135h1v1h-1zM145 135h1v1h-1zM147 135h1v1h-1zM88 136h1v1h-1zM102 136h2v1h-2zM105 136h1v1h-1zM107 136h36v1h-36zM144 136h2v1h-2zM148 136h1v1h-1zM98 137h1v1h-1zM104 137h2v1h-2zM107 137h25v1h-25zM133 137h6v1h-6zM141 137h5v1h-5zM97 138h1v1h-1zM103 138h1v1h-1zM107 138h34v1h-34zM142 138h1v1h-1zM147 138h2v1h-2zM96 139h1v1h-1zM100 139h1v1h-1zM102 139h1v1h-1zM105 139h1v1h-1zM107 139h34v1h-34zM144 139h2v1h-2zM158 139h1v1h-1zM92 140h1v1h-1zM95 140h1v1h-1zM103 140h1v1h-1zM105 140h1v1h-1zM107 140h1v1h-1zM109 140h32v1h-32zM142 140h1v1h-1zM144 140h3v1h-3zM149 140h1v1h-1zM151 140h1v1h-1zM96 141h2v1h-2zM103 141h1v1h-1zM106 141h35v1h-35zM142 141h1v1h-1zM145 141h1v1h-1zM147 141h1v1h-1zM97 142h1v1h-1zM100 142h3v1h-3zM104 142h39v1h-39zM144 142h2v1h-2zM96 143h1v1h-1zM98 143h2v1h-2zM102 143h2v1h-2zM105 143h1v1h-1zM107 143h33v1h-33zM141 143h1v1h-1zM144 143h1v1h-1zM146 143h1v1h-1zM155 143h1v1h-1zM157 143h1v1h-1zM89 144h1v1h-1zM95 144h1v1h-1zM103 144h2v1h-2zM106 144h37v1h-37zM144 144h2v1h-2zM147 144h1v1h-1zM93 145h1v1h-1zM100 145h1v1h-1zM103 145h38v1h-38zM148 145h1v1h-1zM92 146h1v1h-1zM98 146h2v1h-2zM101 146h1v1h-1zM103 146h1v1h-1zM105 146h2v1h-2zM108 146h32v1h-32zM141 146h1v1h-1zM94 147h1v1h-1zM99 147h3v1h-3zM103 147h1v1h-1zM107 147h31v1h-31zM139 147h1v1h-1zM144 147h1v1h-1zM97 148h2v1h-2zM104 148h34v1h-34zM140 148h1v1h-1zM155 148h1v1h-1zM84 149h1v1h-1zM98 149h1v1h-1zM101 149h1v1h-1zM103 149h1v1h-1zM105 149h1v1h-1zM108 149h30v1h-30zM147 149h1v1h-1zM93 150h1v1h-1zM101 150h1v1h-1zM105 150h1v1h-1zM109 150h32v1h-32zM146 150h2v1h-2zM150 150h1v1h-1zM95 151h2v1h-2zM108 151h30v1h-30zM83 152h1v1h-1zM95 152h1v1h-1zM99 152h2v1h-2zM105 152h5v1h-5zM111 152h26v1h-26zM143 152h1v1h-1zM100 153h3v1h-3zM104 153h2v1h-2zM109 153h26v1h-26zM136 153h1v1h-1zM97 154h1v1h-1zM99 154h2v1h-2zM102 154h2v1h-2zM106 154h30v1h-30zM137 154h2v1h-2zM141 154h1v1h-1zM143 154h1v1h-1zM90 155h1v1h-1zM100 155h1v1h-1zM102 155h1v1h-1zM104 155h1v1h-1zM106 155h3v1h-3zM111 155h22v1h-22zM134 155h2v1h-2zM141 155h1v1h-1zM145 155h1v1h-1zM150 155h1v1h-1zM98 156h1v1h-1zM101 156h1v1h-1zM105 156h2v1h-2zM108 156h31v1h-31zM140 156h2v1h-2zM90 157h1v1h-1zM98 157h2v1h-2zM101 157h2v1h-2zM107 157h1v1h-1zM112 157h22v1h-22zM136 157h4v1h-4zM152 157h1v1h-1zM95 158h1v1h-1zM97 158h4v1h-4zM102 158h1v1h-1zM105 158h1v1h-1zM109 158h1v1h-1zM112 158h1v1h-1zM114 158h19v1h-19zM134 158h4v1h-4zM140 158h1v1h-1zM158 158h1v1h-1zM85 159h1v1h-1zM95 159h1v1h-1zM100 159h1v1h-1zM102 159h2v1h-2zM105 159h2v1h-2zM108 159h1v1h-1zM111 159h23v1h-23zM135 159h2v1h-2zM138 159h1v1h-1zM141 159h1v1h-1zM87 160h1v1h-1zM91 160h1v1h-1zM100 160h1v1h-1zM102 160h1v1h-1zM105 160h1v1h-1zM109 160h2v1h-2zM114 160h22v1h-22zM139 160h1v1h-1zM141 160h2v1h-2zM148 160h2v1h-2zM89 161h1v1h-1zM102 161h2v1h-2zM105 161h3v1h-3zM110 161h2v1h-2zM113 161h1v1h-1zM115 161h20v1h-20zM136 161h1v1h-1zM138 161h2v1h-2zM143 161h1v1h-1zM93 162h1v1h-1zM99 162h1v1h-1zM103 162h1v1h-1zM107 162h4v1h-4zM112 162h1v1h-1zM114 162h1v1h-1zM116 162h22v1h-22zM144 162h1v1h-1zM151 162h1v1h-1zM84 163h1v1h-1zM93 163h1v1h-1zM99 163h3v1h-3zM104 163h1v1h-1zM106 163h1v1h-1zM109 163h1v1h-1zM111 163h25v1h-25zM137 163h2v1h-2zM143 163h1v1h-1zM82 164h1v1h-1zM85 164h1v1h-1zM99 164h2v1h-2zM104 164h1v1h-1zM107 164h1v1h-1zM109 164h27v1h-27zM137 164h1v1h-1zM139 164h1v1h-1zM141 164h1v1h-1zM92 165h1v1h-1zM96 165h1v1h-1zM101 165h1v1h-1zM106 165h2v1h-2zM111 165h1v1h-1zM113 165h24v1h-24zM138 165h1v1h-1zM144 165h1v1h-1zM101 166h3v1h-3zM105 166h1v1h-1zM107 166h1v1h-1zM109 166h27v1h-27zM137 166h3v1h-3zM143 166h1v1h-1zM158 166h1v1h-1zM93 167h1v1h-1zM95 167h1v1h-1zM101 167h1v1h-1zM105 167h30v1h-30zM136 167h1v1h-1zM138 167h2v1h-2zM96 168h2v1h-2zM104 168h1v1h-1zM108 168h28v1h-28zM137 168h1v1h-1zM142 168h1v1h-1zM154 168h1v1h-1zM96 169h1v1h-1zM105 169h3v1h-3zM109 169h25v1h-25zM135 169h2v1h-2zM139 169h1v1h-1zM144 169h1v1h-1zM85 170h1v1h-1zM104 170h1v1h-1zM107 170h1v1h-1zM109 170h26v1h-26zM138 170h1v1h-1zM147 170h1v1h-1zM156 170h1v1h-1zM105 171h1v1h-1zM107 171h27v1h-27zM135 171h1v1h-1zM137 171h1v1h-1zM139 171h2v1h-2z"/>
</g>
<path d="M382.4 215.7H1121.7M1121.7 214.2V955.2M382.4 929.6H1121.7M408 215.7V955.2" stroke="#000" stroke-width="2.9" fill="none"/>
<path d="M395.4 875.9H408M395.4 846.3H408M395.4 824H408M395.4 807.2H408M395.4 793.4H408M395.4 779.8H408M395.4 770.3H408M395.4 760.7H408M382.4 751.2H408M395.4 697.5H408M395.4 667.9H408M395.4 645.6H408M395.4 628.8H408M395.4 615H408M395.4 601.4H408M395.4 591.9H408M395.4 582.3H408M382.4 572.7H408M395.4 519H408M395.4 489.4H408M395.4 467.1H408M395.4 450.3H408M395.4 436.5H408M395.4 422.9H408M395.4 413.4H408M395.4 403.8H408M382.4 394.3H408M395.4 340.6H408M395.4 311H408M395.4 288.7H408M395.4 271.9H408M395.4 258.1H408M395.4 244.5H408M395.4 235H408M395.4 225.4H408M461.7 929.6V942.2M491.3 929.6V942.2M513.6 929.6V942.2M530.4 929.6V942.2M544.2 929.6V942.2M557.8 929.6V942.2M567.3 929.6V942.2M576.9 929.6V942.2M586.5 929.6V955.2M640.2 929.6V942.2M669.8 929.6V942.2M692.1 929.6V942.2M708.9 929.6V942.2M722.7 929.6V942.2M736.2 929.6V942.2M745.8 929.6V942.2M755.4 929.6V942.2M764.9 929.6V955.2M818.6 929.6V942.2M848.2 929.6V942.2M870.5 929.6V942.2M887.3 929.6V942.2M901.1 929.6V942.2M914.7 929.6V942.2M924.2 929.6V942.2M933.8 929.6V942.2M943.3 929.6V955.2M997 929.6V942.2M1026.6 929.6V942.2M1048.9 929.6V942.2M1065.8 929.6V942.2M1079.5 929.6V942.2M1093.1 929.6V942.2M1102.6 929.6V942.2M1112.2 929.6V942.2" stroke="#000" stroke-width="2.7" fill="none"/>
<path d="M742.1 929.6V599.6H1100V929.6" stroke="#000" stroke-width="3.6" fill="none" stroke-linejoin="miter"/>
<path d="M1444.8 216H2184.4M2184.4 214.6V955.2M1444.8 929.6H2184.4M1470.4 216V955.2" stroke="#000" stroke-width="2.9" fill="none"/>
<path d="M1457.8 875.9H1470.4M1457.8 846.3H1470.4M1457.8 824H1470.4M1457.8 807.2H1470.4M1457.8 793.4H1470.4M1457.8 779.8H1470.4M1457.8 770.3H1470.4M1457.8 760.7H1470.4M1444.8 751.2H1470.4M1457.8 697.5H1470.4M1457.8 667.9H1470.4M1457.8 645.6H1470.4M1457.8 628.8H1470.4M1457.8 615H1470.4M1457.8 601.4H1470.4M1457.8 591.9H1470.4M1457.8 582.3H1470.4M1444.8 572.7H1470.4M1457.8 519H1470.4M1457.8 489.4H1470.4M1457.8 467.1H1470.4M1457.8 450.3H1470.4M1457.8 436.5H1470.4M1457.8 422.9H1470.4M1457.8 413.4H1470.4M1457.8 403.8H1470.4M1444.8 394.3H1470.4M1457.8 340.6H1470.4M1457.8 311H1470.4M1457.8 288.7H1470.4M1457.8 271.9H1470.4M1457.8 258.1H1470.4M1457.8 244.5H1470.4M1457.8 235H1470.4M1457.8 225.4H1470.4M1524.1 929.6V942.2M1553.7 929.6V942.2M1576 929.6V942.2M1592.8 929.6V942.2M1606.6 929.6V942.2M1620.2 929.6V942.2M1629.7 929.6V942.2M1639.3 929.6V942.2M1648.9 929.6V955.2M1702.6 929.6V942.2M1732.2 929.6V942.2M1754.5 929.6V942.2M1771.3 929.6V942.2M1785.1 929.6V942.2M1798.7 929.6V942.2M1808.2 929.6V942.2M1817.8 929.6V942.2M1827.3 929.6V955.2M1881 929.6V942.2M1910.6 929.6V942.2M1932.9 929.6V942.2M1949.7 929.6V942.2M1963.5 929.6V942.2M1977.1 929.6V942.2M1986.6 929.6V942.2M1996.2 929.6V942.2M2005.8 929.6V955.2M2059.4 929.6V942.2M2089.1 929.6V942.2M2111.3 929.6V942.2M2128.2 929.6V942.2M2141.9 929.6V942.2M2155.6 929.6V942.2M2165.1 929.6V942.2M2174.7 929.6V942.2" stroke="#000" stroke-width="2.7" fill="none"/>
<path d="M1805.7 929.6V601.3H2163.3V929.6" stroke="#000" stroke-width="3.1" fill="none" stroke-linejoin="miter"/>
<g fill="#000">
<text x="510.9" y="142.2" font-size="49.6" textLength="509.4" lengthAdjust="spacingAndGlyphs" font-family="'Liberation Sans', sans-serif" font-weight="700" stroke="#000" stroke-width="1.3" stroke-linejoin="round">Unseparated fraction</text>
<text x="1560.5" y="142.2" font-size="49.6" textLength="357.5" lengthAdjust="spacingAndGlyphs" font-family="'Liberation Sans', sans-serif" font-weight="700" stroke="#000" stroke-width="1.3" stroke-linejoin="round">Isolated CD45R</text>
<text x="1918.3" y="125.0" font-size="31" textLength="18.5" lengthAdjust="spacingAndGlyphs" font-family="'Liberation Sans', sans-serif" font-weight="700" stroke="#000" stroke-width="0.5">+</text>
<text x="1947.4" y="142.2" font-size="49.6" textLength="146.8" lengthAdjust="spacingAndGlyphs" font-family="'Liberation Sans', sans-serif" font-weight="700" stroke="#000" stroke-width="1.3" stroke-linejoin="round">B cells</text>
<text x="644" y="1039.2" font-size="51.4" textLength="229" lengthAdjust="spacingAndGlyphs" font-family="'Liberation Sans', sans-serif" font-weight="700">CD45R-PE</text>
<text x="1710.4" y="1039.2" font-size="51.4" textLength="229" lengthAdjust="spacingAndGlyphs" font-family="'Liberation Sans', sans-serif" font-weight="700">CD45R-PE</text>
<text transform="translate(337.1 750) rotate(-90)" x="0" y="0" font-size="50.8" textLength="360" lengthAdjust="spacingAndGlyphs" font-family="'Liberation Sans', sans-serif" font-weight="700">Anti-Biotin-APC</text>
<text transform="translate(1398.6 747.4) rotate(-90)" x="0" y="0" font-size="50.8" textLength="360" lengthAdjust="spacingAndGlyphs" font-family="'Liberation Sans', sans-serif" font-weight="700">Anti-Biotin-APC</text>
</g>
</svg>
</body></html>
